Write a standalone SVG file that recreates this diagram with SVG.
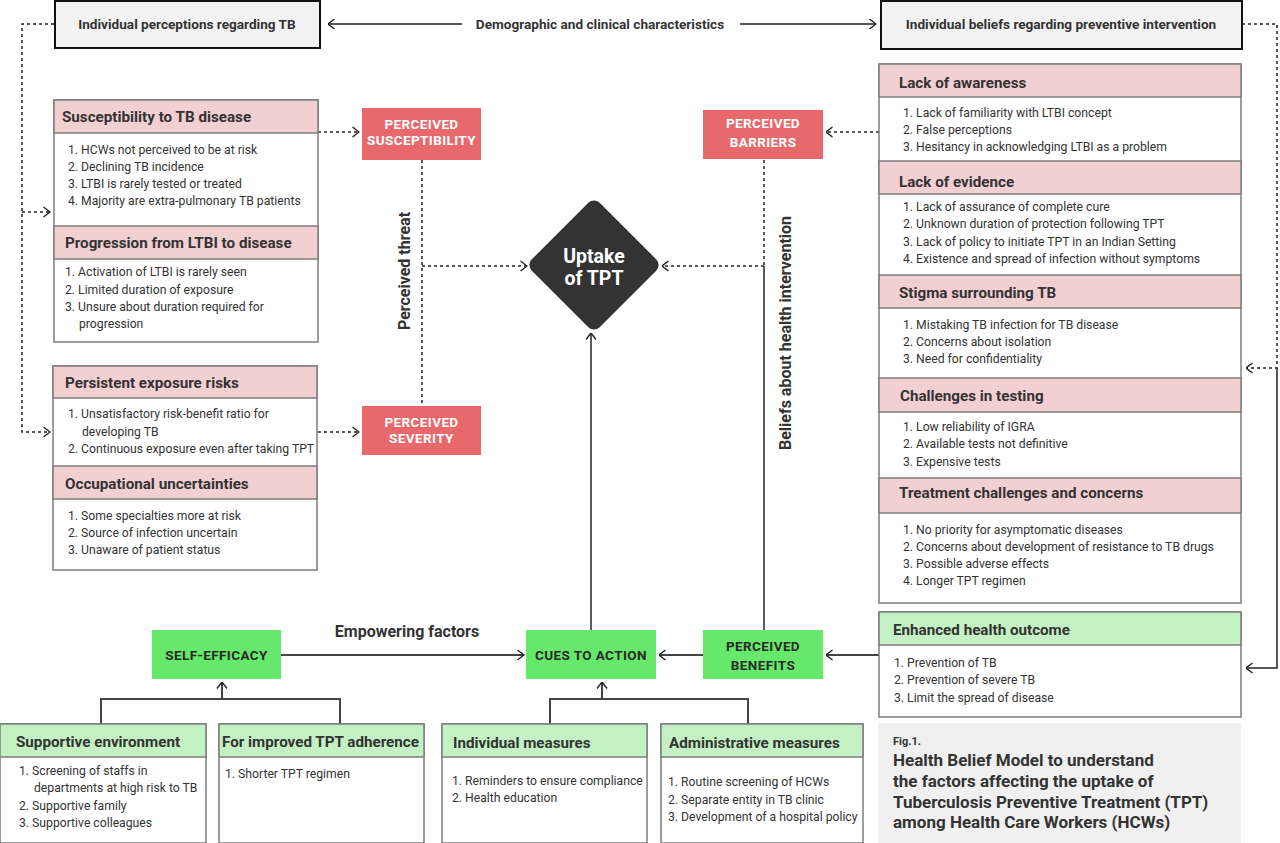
<svg xmlns="http://www.w3.org/2000/svg" width="1280" height="843" viewBox="0 0 1280 843">
<defs>
<marker id="ah" viewBox="0 0 8 12" refX="7.5" refY="6" markerWidth="8" markerHeight="12" markerUnits="userSpaceOnUse" orient="auto">
<path d="M1,1 L7.5,6 L1,11" fill="none" stroke="#222" stroke-width="1.4"/>
</marker>
<style>
text{font-family:Roboto,"Noto Sans",sans-serif;fill:#333}
.hd{font-size:15.2px;font-weight:700}
.it{font-size:12.2px}
.top{font-size:13.6px;font-weight:700}
.red{fill:#e8696b}
.rt{fill:#fff;font-size:13.5px;font-weight:700;text-anchor:middle;letter-spacing:0.4px}
.grn{fill:#66e86a}
.gt{font-size:13.5px;font-weight:700;text-anchor:middle;fill:#2a2a2a;letter-spacing:0.4px}
.box{fill:#fff;stroke:#7d7d7d;stroke-width:1.5}
.ph{fill:#f2cfd1;stroke:#7d7d7d;stroke-width:1.5}
.gh{fill:#c4f1c3;stroke:#7d7d7d;stroke-width:1.5}
.dot{fill:none;stroke:#222;stroke-width:1.5;stroke-dasharray:3 3}
.sol{fill:none;stroke:#222;stroke-width:1.5}
.sol2{fill:none;stroke:#444;stroke-width:2}
.lab{font-size:16px;font-weight:700}
.cap{font-size:17px;font-weight:700}
</style>
</defs>
<rect width="1280" height="843" fill="#fff"/>

<g id="connectors">
<path class="dot" d="M54,24 H22 V432 H50" marker-end="url(#ah)"/>
<path class="dot" d="M22,212 H50" marker-end="url(#ah)"/>
<path class="dot" d="M1242,24 H1277 V368 H1246" marker-end="url(#ah)"/>
<path class="sol" d="M1277,368 V668 H1246" marker-end="url(#ah)"/>
<path class="sol" d="M462,24 H328" marker-end="url(#ah)"/>
<path class="sol" d="M740,24 H876" marker-end="url(#ah)"/>
<path class="dot" d="M318,132 H359" marker-end="url(#ah)"/>
<path class="dot" d="M318,432 H359" marker-end="url(#ah)"/>
<path class="dot" d="M879,132 H826" marker-end="url(#ah)"/>
<path class="dot" d="M422,160 V406"/>
<path class="dot" d="M422,266 H527" marker-end="url(#ah)"/>
<path class="dot" d="M764,160 V266"/>
<path class="dot" d="M764,266 H662" marker-end="url(#ah)"/>
<path class="sol" d="M764,266 V630"/>
<path class="sol" d="M591,630 V333" marker-end="url(#ah)"/>
<path class="sol2" d="M281,655 H524" marker-end="url(#ah)"/>
<path class="sol2" d="M703,655 H659" marker-end="url(#ah)"/>
<path class="sol2" d="M879,655 H826" marker-end="url(#ah)"/>
<path class="sol2" d="M101,724 V699 H340 V724"/>
<path class="sol2" d="M222,699 V682" marker-end="url(#ah)"/>
<path class="sol2" d="M550,724 V699 H748 V724"/>
<path class="sol2" d="M602,699 V682" marker-end="url(#ah)"/>
<text class="top" x="600" y="28.5" text-anchor="middle">Demographic and clinical characteristics</text>
<text class="lab" transform="translate(409.5,271) rotate(-90)" text-anchor="middle">Perceived threat</text>
<text class="lab" transform="translate(790.5,333) rotate(-90)" text-anchor="middle">Beliefs about health intervention</text>
<text class="lab" x="407" y="637" text-anchor="middle">Empowering factors</text>
</g>

<g id="perceptions-tb">
<rect x="55" y="1" width="265" height="47" fill="#f2f2f2" stroke="#111" stroke-width="2"/>
<text class="top" x="187" y="28.5" text-anchor="middle">Individual perceptions regarding TB</text>
</g>

<g id="beliefs-intervention">
<rect x="881" y="1" width="361" height="48" fill="#f2f2f2" stroke="#111" stroke-width="2"/>
<text class="top" x="1061" y="29" text-anchor="middle">Individual beliefs regarding preventive intervention</text>
</g>

<g id="susceptibility-box">
<rect class="box" x="54" y="100" width="264" height="242"/>
<rect class="ph" x="54" y="100" width="264" height="33"/>
<text class="hd" x="62" y="122">Susceptibility to TB disease</text>
<text class="it" x="68" y="154">1. HCWs not perceived to be at risk</text>
<text class="it" x="68" y="171">2. Declining TB incidence</text>
<text class="it" x="68" y="188">3. LTBI is rarely tested or treated</text>
<text class="it" x="68" y="205">4. Majority are extra-pulmonary TB patients</text>
<rect class="ph" x="54" y="226" width="264" height="33"/>
<text class="hd" x="65" y="248">Progression from LTBI to disease</text>
<text class="it" x="65" y="276">1. Activation of LTBI is rarely seen</text>
<text class="it" x="65" y="294">2. Limited duration of exposure</text>
<text class="it" x="65" y="311">3. Unsure about duration required for</text>
<text class="it" x="79" y="328">progression</text>
</g>

<g id="exposure-box">
<rect class="box" x="53" y="366" width="264" height="204"/>
<rect class="ph" x="53" y="366" width="264" height="32"/>
<text class="hd" x="65" y="388">Persistent exposure risks</text>
<text class="it" x="68" y="418">1. Unsatisfactory risk-benefit ratio for</text>
<text class="it" x="82" y="436">developing TB</text>
<text class="it" x="68" y="453">2. Continuous exposure even after taking TPT</text>
<rect class="ph" x="53" y="466" width="264" height="33"/>
<text class="hd" x="65" y="489">Occupational uncertainties</text>
<text class="it" x="68" y="520">1. Some specialties more at risk</text>
<text class="it" x="68" y="537">2. Source of infection uncertain</text>
<text class="it" x="68" y="554">3. Unaware of patient status</text>
</g>

<g id="perceived-susceptibility">
<rect class="red" x="362" y="108" width="119" height="52"/>
<text class="rt" x="421.5" y="129">PERCEIVED</text>
<text class="rt" x="421.5" y="145">SUSCEPTIBILITY</text>
</g>

<g id="perceived-severity">
<rect class="red" x="362" y="406" width="119" height="49"/>
<text class="rt" x="421.5" y="427">PERCEIVED</text>
<text class="rt" x="421.5" y="443">SEVERITY</text>
</g>

<g id="perceived-barriers">
<rect class="red" x="703" y="110" width="120" height="49"/>
<text class="rt" x="763" y="128">PERCEIVED</text>
<text class="rt" x="763" y="147">BARRIERS</text>
</g>

<g id="uptake">
<rect x="-48" y="-48" width="96" height="96" rx="8" fill="#333" transform="translate(594,265) rotate(45)"/>
<text x="594" y="263" text-anchor="middle" style="fill:#fff;font-size:19.5px;font-weight:700">Uptake</text>
<text x="594" y="285" text-anchor="middle" style="fill:#fff;font-size:19.5px;font-weight:700">of TPT</text>
</g>

<g id="barriers-box">
<rect class="box" x="879" y="64" width="362" height="539"/>
<rect class="ph" x="879" y="64" width="362" height="33"/>
<text class="hd" x="899" y="88">Lack of awareness</text>
<text class="it" x="903" y="117">1. Lack of familiarity with LTBI concept</text>
<text class="it" x="903" y="134">2. False perceptions</text>
<text class="it" x="903" y="151">3. Hesitancy in acknowledging LTBI as a problem</text>
<rect class="ph" x="879" y="161" width="362" height="33"/>
<text class="hd" x="899" y="187">Lack of evidence</text>
<text class="it" x="903" y="211">1. Lack of assurance of complete cure</text>
<text class="it" x="903" y="228">2. Unknown duration of protection following TPT</text>
<text class="it" x="903" y="246">3. Lack of policy to initiate TPT in an Indian Setting</text>
<text class="it" x="903" y="263">4. Existence and spread of infection without symptoms</text>
<rect class="ph" x="879" y="275" width="362" height="33"/>
<text class="hd" x="899" y="298">Stigma surrounding TB</text>
<text class="it" x="903" y="329">1. Mistaking TB infection for TB disease</text>
<text class="it" x="903" y="346">2. Concerns about isolation</text>
<text class="it" x="903" y="363">3. Need for confidentiality</text>
<rect class="ph" x="879" y="378" width="362" height="34"/>
<text class="hd" x="900" y="401">Challenges in testing</text>
<text class="it" x="903" y="431">1. Low reliability of IGRA</text>
<text class="it" x="903" y="448">2. Available tests not definitive</text>
<text class="it" x="903" y="466">3. Expensive tests</text>
<rect class="ph" x="879" y="478" width="362" height="35"/>
<text class="hd" x="899" y="498">Treatment challenges and concerns</text>
<text class="it" x="903" y="534">1. No priority for asymptomatic diseases</text>
<text class="it" x="903" y="551">2. Concerns about development of resistance to TB drugs</text>
<text class="it" x="903" y="568">3. Possible adverse effects</text>
<text class="it" x="903" y="585">4. Longer TPT regimen</text>
</g>

<g id="enhanced-outcome">
<rect class="box" x="879" y="612" width="362" height="105"/>
<rect class="gh" x="879" y="612" width="362" height="33"/>
<text class="hd" x="893" y="635">Enhanced health outcome</text>
<text class="it" x="894" y="667">1. Prevention of TB</text>
<text class="it" x="894" y="684">2. Prevention of severe TB</text>
<text class="it" x="894" y="702">3. Limit the spread of disease</text>
</g>

<g id="perceived-benefits">
<rect class="grn" x="703" y="630" width="120" height="49"/>
<text class="gt" x="763" y="651">PERCEIVED</text>
<text class="gt" x="763" y="670">BENEFITS</text>
</g>

<g id="cues-to-action">
<rect class="grn" x="526" y="630" width="130" height="49"/>
<text class="gt" x="591" y="659.5">CUES TO ACTION</text>
</g>

<g id="self-efficacy">
<rect class="grn" x="152" y="630" width="129" height="49"/>
<text class="gt" x="216.5" y="659.5">SELF-EFFICACY</text>
</g>

<g id="supportive-environment">
<rect class="box" x="0" y="724" width="206" height="119"/>
<rect class="gh" x="0" y="724" width="206" height="33"/>
<text class="hd" x="16" y="747">Supportive environment</text>
<text class="it" x="19" y="775">1. Screening of staffs in</text>
<text class="it" x="34" y="792">departments at high risk to TB</text>
<text class="it" x="19" y="810">2. Supportive family</text>
<text class="it" x="19" y="827">3. Supportive colleagues</text>
</g>

<g id="tpt-adherence">
<rect class="box" x="219" y="724" width="205" height="119"/>
<rect class="gh" x="219" y="724" width="205" height="33"/>
<text class="hd" x="222" y="747">For improved TPT adherence</text>
<text class="it" x="225" y="778">1. Shorter TPT regimen</text>
</g>

<g id="individual-measures">
<rect class="box" x="442" y="724" width="205" height="119"/>
<rect class="gh" x="442" y="724" width="205" height="33"/>
<text class="hd" x="453" y="748">Individual measures</text>
<text class="it" x="452" y="785">1. Reminders to ensure compliance</text>
<text class="it" x="452" y="802">2. Health education</text>
</g>

<g id="administrative-measures">
<rect class="box" x="661" y="724" width="202" height="119"/>
<rect class="gh" x="661" y="724" width="202" height="33"/>
<text class="hd" x="669" y="748">Administrative measures</text>
<text class="it" x="668" y="786">1. Routine screening of HCWs</text>
<text class="it" x="668" y="804">2. Separate entity in TB clinic</text>
<text class="it" x="668" y="821">3. Development of a hospital policy</text>
</g>

<g id="caption">
<rect x="878" y="723" width="363" height="120" fill="#f0f0f0"/>
<text x="893" y="745" style="font-size:11px;font-weight:700">Fig.1.</text>
<text class="cap" x="893" y="766">Health Belief Model to understand</text>
<text class="cap" x="893" y="787">the factors affecting the uptake of</text>
<text class="cap" x="893" y="808">Tuberculosis Preventive Treatment (TPT)</text>
<text class="cap" x="893" y="828">among Health Care Workers (HCWs)</text>
</g>
</svg>
